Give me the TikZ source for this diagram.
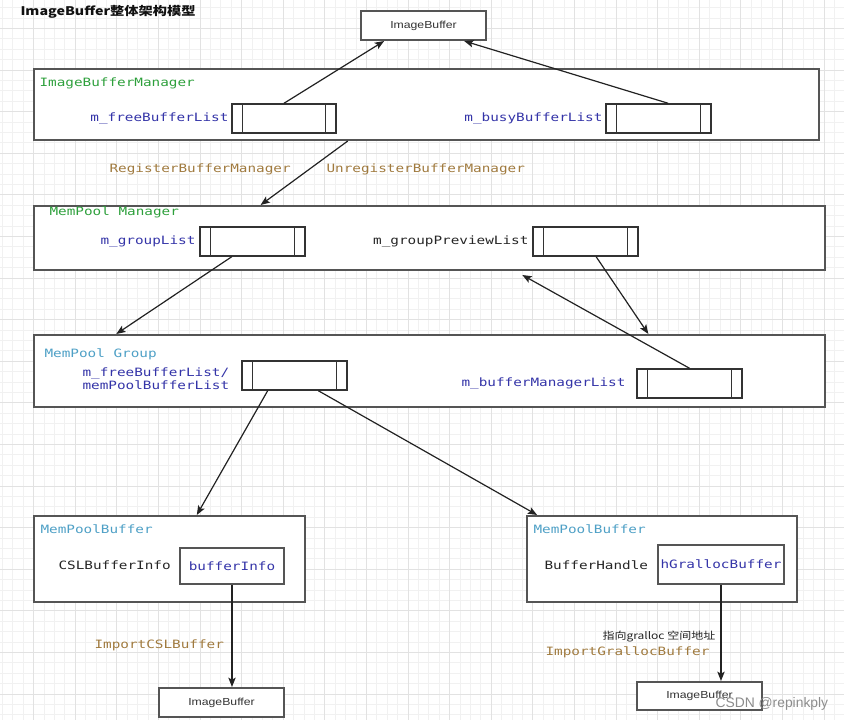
\documentclass[tikz,border=0pt]{standalone}
\usepackage{fontspec}
\usetikzlibrary{calc,fit,arrows.meta}

\newfontfamily\codefont[FakeStretch=1.25]{DejaVu Sans Mono}
\newfontfamily\boxfont[FakeStretch=1.2]{Liberation Sans}
\newfontfamily\cjkfont[FakeStretch=1.2]{Noto Sans CJK SC}
\newfontfamily\markfont{Liberation Sans}

\definecolor{mgrgreen}{RGB}{46,160,60}
\definecolor{poolteal}{RGB}{78,160,198}
\definecolor{membblue}{RGB}{52,52,168}
\definecolor{callbrown}{RGB}{160,122,62}
\definecolor{boxgray}{RGB}{85,85,85}
\definecolor{listgray}{RGB}{51,51,51}
\definecolor{gridlight}{RGB}{241,241,241}
\definecolor{griddark}{RGB}{226,226,226}

\tikzset{every picture/.style={line width=0.75pt}}
\tikzset{
  gridminor/.style={draw=gridlight, line width=0.5pt},
  gridmajor/.style={draw=griddark, line width=0.6pt},
  bigbox/.style={draw=boxgray, line width=1.5pt, fill=white, inner sep=0pt},
  ibbox/.style={draw=boxgray, line width=1.5pt, fill=white, inner sep=0pt},
  iblabel/.style={inner sep=0pt, text={rgb,255:red,51;green,51;blue,51}, font=\boxfont\fontsize{7.65}{9}\selectfont},
  fieldbox/.style={draw=boxgray, line width=1.5pt, fill=white, inner sep=0pt},
  listbox/.style={draw=listgray, line width=1.1pt, fill=white, inner sep=0pt,
    path picture={
      \draw[listgray, line width=1.1pt] ([xshift=7.9pt]path picture bounding box.north west) -- ([xshift=7.9pt]path picture bounding box.south west);
      \draw[listgray, line width=1.1pt] ([xshift=-7.9pt]path picture bounding box.north east) -- ([xshift=-7.9pt]path picture bounding box.south east);
    }},
  codetxt/.style={inner sep=0pt, font=\codefont\fontsize{8.6}{8.5}\selectfont},
  notetxt/.style={inner sep=0pt, text={rgb,255:red,34;green,34;blue,34}, font=\cjkfont\fontsize{7.5}{9}\selectfont},
  titletxt/.style={inner sep=0pt, text={rgb,255:red,17;green,17;blue,17}, font=\cjkfont\bfseries\fontsize{8.9}{11}\selectfont},
  conn/.style={draw={rgb,255:red,34;green,34;blue,34}, line width=0.9pt, -{Stealth[length=7pt,width=5.5pt,inset=1.5pt]}}
}

\begin{document}
\begin{tikzpicture}[x=0.75pt,y=0.75pt,yscale=-1,xscale=1]
\useasboundingbox (0,0) rectangle (844,720);

% background grid
\foreach \i in {0,...,81} \draw[gridminor] ({2.4+\i*10.4},0) -- ({2.4+\i*10.4},720);
\foreach \j in {0,...,69} \draw[gridminor] (0,{7.6+\j*10.4}) -- (844,{7.6+\j*10.4});
\foreach \i in {0,...,19} \draw[gridmajor] ({33.6+\i*41.6},0) -- ({33.6+\i*41.6},720);
\foreach \j in {0,...,16} \draw[gridmajor] (0,{28.4+\j*41.6}) -- (844,{28.4+\j*41.6});

% title
\node[titletxt, anchor=west] (title) at (20,11.5) {ImageBuffer整体架构模型};

% top ImageBuffer
\node[ibbox, fit={(361,11) (486,40)}, label={[iblabel]center:ImageBuffer}] (ibtop) {};

% ImageBufferManager
\node[bigbox, fit={(34,69) (819,140)}] (ibm) {};
\node[codetxt, text=mgrgreen, anchor=west] (ibmname) at (39,83) {ImageBufferManager};
\node[listbox, fit={(232,104) (336,133)}] (freelist) {};
\node[codetxt, text=membblue, anchor=east] (freename) at (229,118.5) {m\_freeBufferList};
\node[listbox, fit={(606,104) (711,133)}] (busylist) {};
\node[codetxt, text=membblue, anchor=east] (busyname) at (603,118.5) {m\_busyBufferList};

\node[codetxt, text=callbrown, anchor=west] (regcall) at (109,169) {RegisterBufferManager};
\node[codetxt, text=callbrown, anchor=west] (unregcall) at (326,169) {UnregisterBufferManager};

% MemPool Manager
\node[bigbox, fit={(34,206) (825,270)}] (mpm) {};
\node[codetxt, text=mgrgreen, anchor=west] (mpmname) at (49,212.5) {MemPool Manager};
\node[listbox, fit={(200,227) (305,256)}] (grouplist) {};
\node[codetxt, text=membblue, anchor=east] (groupname) at (196,241.5) {m\_groupList};
\node[listbox, fit={(533,227) (638,256)}] (previewlist) {};
\node[codetxt, text=black!85, anchor=east] (previewname) at (529,241.5) {m\_groupPreviewList};

% MemPool Group
\node[bigbox, fit={(34,335) (825,407)}] (mpg) {};
\node[codetxt, text=poolteal, anchor=west] (mpgname) at (44,354) {MemPool Group};
\node[listbox, fit={(242,361) (347,390)}] (poollist) {};
\node[codetxt, text=membblue, anchor=west, align=left] (poolname) at (82,378.5) {m\_freeBufferList/\\memPoolBufferList};
\node[listbox, fit={(637,369) (742,398)}] (mgrlist) {};
\node[codetxt, text=membblue, anchor=east] (mgrname) at (626,383) {m\_bufferManagerList};

% MemPoolBuffer (CSL)
\node[bigbox, fit={(34,516) (305,602)}] (mpbleft) {};
\node[codetxt, text=poolteal, anchor=west] (mpbleftname) at (40,529) {MemPoolBuffer};
\node[codetxt, text=black!85, anchor=west] (cslname) at (58,565) {CSLBufferInfo};
\node[fieldbox, fit={(180,548) (284,584)}, label={[codetxt, text=membblue]center:bufferInfo}] (bufinfo) {};
\node[codetxt, text=callbrown, anchor=west] (importcsl) at (94,645) {ImportCSLBuffer};
\node[ibbox, fit={(159,688) (284,717)}, label={[iblabel]center:ImageBuffer}] (ibleft) {};

% MemPoolBuffer (gralloc)
\node[bigbox, fit={(527,516) (797,602)}] (mpbright) {};
\node[codetxt, text=poolteal, anchor=west] (mpbrightname) at (533,529) {MemPoolBuffer};
\node[codetxt, text=black!85, anchor=west] (handlename) at (544,565) {BufferHandle};
\node[fieldbox, fit={(658,545) (784,584)}, label={[codetxt, text=membblue]center:hGrallocBuffer}] (gralloc) {};
\node[notetxt, anchor=west] (graltip) at (602,637) {指向gralloc 空间地址};
\node[codetxt, text=callbrown, anchor=west] (importgral) at (545,652) {ImportGrallocBuffer};
\node[ibbox, fit={(637,682) (762,710)}, label={[iblabel]center:ImageBuffer}] (ibright) {};

\node[inner sep=0pt, text=black!45, font=\markfont\fontsize{10.4}{12}\selectfont, anchor=west] (csdn) at (715,704) {CSDN @repinkply};

% connectors
\draw[conn] (freelist.north) -- ($(ibtop.south west)!0.19!(ibtop.south east)$);
\draw[conn] ($(busylist.north west)!0.59!(busylist.north east)$) -- ($(ibtop.south west)!0.82!(ibtop.south east)$);
\draw[conn] ($(ibm.south west)!0.4!(ibm.south east)$) -- ($(mpm.north west)!0.287!(mpm.north east)$);
\draw[conn] ($(grouplist.south west)!0.305!(grouplist.south east)$) -- ($(mpg.north west)!0.105!(mpg.north east)$);
\draw[conn] ($(previewlist.south west)!0.6!(previewlist.south east)$) -- ($(mpg.north west)!0.776!(mpg.north east)$);
\draw[conn] (mgrlist.north) -- ($(mpm.south west)!0.617!(mpm.south east) + (0,4)$);
\draw[conn] ($(poollist.south west)!0.248!(poollist.south east)$) -- ($(mpbleft.north west)!0.6!(mpbleft.north east)$);
\draw[conn] ($(poollist.south west)!0.724!(poollist.south east)$) -- ($(mpbright.north west)!0.041!(mpbright.north east)$);
\draw[conn] (bufinfo.south) -- (bufinfo.south |- ibleft.north);
\draw[conn] (gralloc.south) -- (gralloc.south |- ibright.north);

\end{tikzpicture}
\end{document}
